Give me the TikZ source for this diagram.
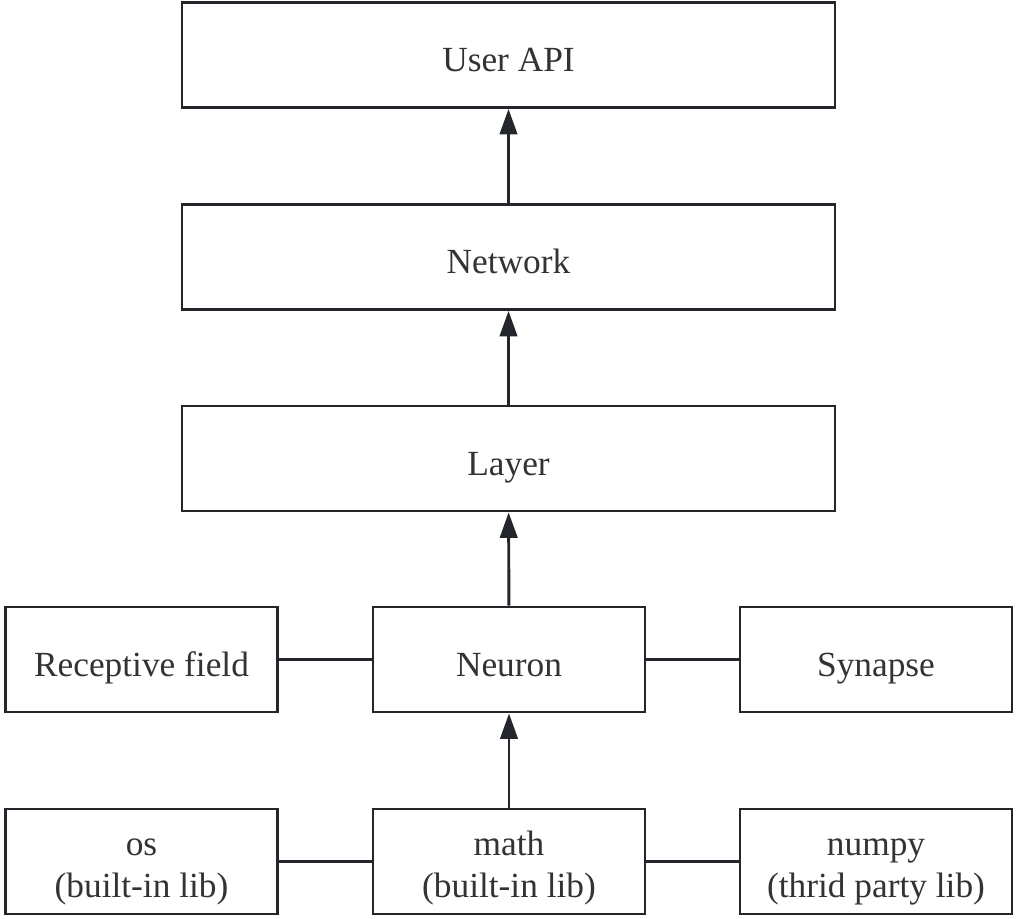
\documentclass[tikz,border=0pt]{standalone}
\usepackage{fontspec}
\setmainfont{Liberation Serif}
\usetikzlibrary{arrows.meta}
\definecolor{edge}{HTML}{23272B}
\definecolor{txt}{HTML}{333333}
\begin{document}
\begin{tikzpicture}[x=0.75pt,y=-0.75pt,
  box/.style={draw=edge,line width=2.2pt,fill=white,inner sep=0pt,minimum height=105*0.75pt},
  wide/.style={box,minimum width=653*0.75pt},
  narrow/.style={box,minimum width=272*0.75pt},
  lbl/.style={text=txt,font=\fontsize{26.5}{32}\selectfont,inner sep=0pt,anchor=base},
  conn/.style={draw=edge,line width=2.2pt},
  arr/.style={conn,-{Triangle[length=19pt,width=13pt]}}]
\useasboundingbox (0,0) rectangle (1016,919);
\node[wide] (api) at (508.5,55) {};
\node[wide] (net) at (508.5,257) {};
\node[wide] (layer) at (508.5,458.5) {};
\node[narrow] (rf) at (141.5,659.5) {};
\node[narrow] (neuron) at (509,659.5) {};
\node[narrow] (syn) at (876,659.5) {};
\node[narrow] (os) at (141.5,861.5) {};
\node[narrow] (math) at (509,861.5) {};
\node[narrow] (np) at (876,861.5) {};
% single-line labels
\node[lbl] (apit) at ([yshift=-17*0.75pt]api.center) {User API};
\node[lbl] (nett) at ([yshift=-17*0.75pt]net.center) {Network};
\node[lbl] (layert) at ([yshift=-17*0.75pt]layer.center) {Layer};
\node[lbl] (rft) at ([yshift=-17*0.75pt]rf.center) {Receptive field};
\node[lbl] (neuront) at ([yshift=-17*0.75pt]neuron.center) {Neuron};
\node[lbl] (synt) at ([yshift=-17*0.75pt]syn.center) {Synapse};
% two-line labels
\node[lbl] (ost1) at ([yshift=6*0.75pt]os.center) {os};
\node[lbl] (ost2) at ([yshift=-36*0.75pt]os.center) {(built-in lib)};
\node[lbl] (matht1) at ([yshift=6*0.75pt]math.center) {math};
\node[lbl] (matht2) at ([yshift=-36*0.75pt]math.center) {(built-in lib)};
\node[lbl] (npt1) at ([yshift=6*0.75pt]np.center) {numpy};
\node[lbl] (npt2) at ([yshift=-36*0.75pt]np.center) {(thrid party lib)};
\draw[arr] (net) -- (api);
\draw[arr] (layer) -- (net);
\draw[arr] (neuron) -- (layer);
\draw[arr] (math) -- (neuron);
\draw[conn] (rf) -- (neuron);
\draw[conn] (neuron) -- (syn);
\draw[conn] (os) -- (math);
\draw[conn] (math) -- (np);
\end{tikzpicture}
\end{document}
